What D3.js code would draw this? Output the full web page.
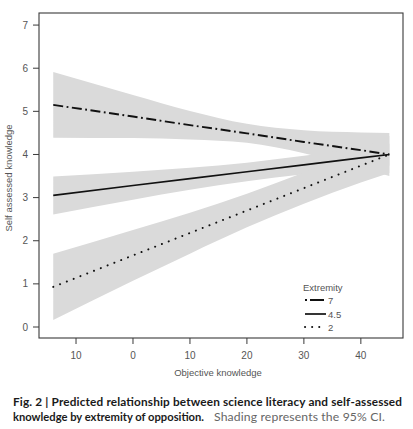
<!DOCTYPE html>
<html>
<head>
<meta charset="utf-8">
<script src="https://cdn.jsdelivr.net/npm/d3@7"></script>
<style>
  body { margin: 0; background: #fff; }
  svg text { font-family: "Liberation Sans", Arial, sans-serif; }
</style>
</head>
<body>
<svg id="chart" width="413" height="429"></svg>
<script>
// valeurs
const xGrid = [-14, 0, 10, 20, 30, 40, 45];

const fit7 = [5.15, 4.88, 4.68, 4.49, 4.29, 4.10, 4.00];
const low7 = [4.39, 4.38, 4.35, 4.27, 4.03, 3.68, 3.50];
const high7 = [5.91, 5.38, 5.01, 4.71, 4.56, 4.51, 4.50];

const fit45 = [3.05, 3.28, 3.44, 3.60, 3.76, 3.92, 4.00];
const low45 = [2.61, 2.95, 3.18, 3.38, 3.54, 3.68, 3.74];
const high45 = [3.49, 3.60, 3.69, 3.81, 3.97, 4.15, 4.25];

const fit2 = [0.93, 1.66, 2.18, 2.70, 3.22, 3.74, 4.00];
const low2 = [0.16, 1.07, 1.70, 2.31, 2.86, 3.35, 3.57];
const high2 = [1.70, 2.25, 2.65, 3.09, 3.58, 4.13, 4.43];

const xTicks = [-10, 0, 10, 20, 30, 40];
const xTickLabels = ["10", "0", "10", "20", "30", "40"];
const yTicks = [0, 1, 2, 3, 4, 5, 6, 7];

const legendLabels = ["7", "4.5", "2"];

const svg = d3.select("#chart");

const x = d3.scaleLinear().domain([-16.5, 47.4]).range([39, 403]);
const y = d3.scaleLinear().domain([-0.255, 7.28]).range([338, 13]);

// styles des lignes (7 = tiret-point, 4.5 = plein, 2 = pointillé)
const styles = {
  "7": { dash: "10 3.5 1.8 3.5", width: 1.9, cap: "butt" },
  "4.5": { dash: null, width: 1.7, cap: "butt" },
  "2": { dash: "0.1 7.2", width: 2, cap: "round" }
};

const series = [
  { key: "7", fit: fit7, low: low7, high: high7 },
  { key: "4.5", fit: fit45, low: low45, high: high45 },
  { key: "2", fit: fit2, low: low2, high: high2 }
];

const area = d3.area()
  .x((d, i) => x(xGrid[i]))
  .y0(d => y(d[0]))
  .y1(d => y(d[1]))
  .curve(d3.curveMonotoneX);

const line = d3.line()
  .x((d, i) => x(xGrid[i]))
  .y(d => y(d));

// bandes IC 95%
svg.append("g").selectAll("path")
  .data(series)
  .join("path")
  .attr("d", s => area(s.low.map((l, i) => [l, s.high[i]])))
  .attr("fill", "#dadada");

svg.append("g").selectAll("path")
  .data(series)
  .join("path")
  .attr("d", s => line(s.fit))
  .attr("fill", "none")
  .attr("stroke", "#111")
  .attr("stroke-width", s => styles[s.key].width)
  .attr("stroke-dasharray", s => styles[s.key].dash)
  .attr("stroke-linecap", s => styles[s.key].cap);

// cadre
svg.append("rect")
  .attr("x", 39).attr("y", 13)
  .attr("width", 364).attr("height", 325)
  .attr("fill", "none")
  .attr("stroke", "#3a3a3a")
  .attr("stroke-width", 1.1);

const axisColor = "#555";

// axe y
const yAxis = svg.append("g");
yAxis.selectAll("line")
  .data(yTicks)
  .join("line")
  .attr("x1", 33).attr("x2", 39)
  .attr("y1", d => y(d)).attr("y2", d => y(d))
  .attr("stroke", "#3a3a3a");
yAxis.selectAll("text")
  .data(yTicks)
  .join("text")
  .attr("x", 28)
  .attr("y", d => y(d) + 3.5)
  .attr("text-anchor", "end")
  .attr("font-size", 10)
  .attr("fill", axisColor)
  .text(d => d);

// axe x
const xAxis = svg.append("g");
xAxis.selectAll("line")
  .data(xTicks)
  .join("line")
  .attr("x1", d => x(d)).attr("x2", d => x(d))
  .attr("y1", 338).attr("y2", 344)
  .attr("stroke", "#3a3a3a");
xAxis.selectAll("text")
  .data(xTicks)
  .join("text")
  .attr("x", d => x(d))
  .attr("y", 359)
  .attr("text-anchor", "middle")
  .attr("font-size", 10)
  .attr("fill", axisColor)
  .text((d, i) => xTickLabels[i]);

svg.append("text")
  .attr("x", 218).attr("y", 376)
  .attr("text-anchor", "middle")
  .attr("font-size", 9.5)
  .attr("fill", axisColor)
  .text("Objective knowledge");

svg.append("text")
  .attr("transform", "translate(12,178) rotate(-90)")
  .attr("text-anchor", "middle")
  .attr("font-size", 9.5)
  .attr("fill", axisColor)
  .text("Self assessed knowledge");

// légende
const legend = svg.append("g").attr("transform", "translate(303,0)");
legend.append("text")
  .attr("x", 0).attr("y", 291)
  .attr("font-size", 9.5)
  .attr("fill", axisColor)
  .text("Extremity");

const legendY = [300, 314, 327];
const legendDash = { "7": "2 3 14 3", "4.5": null, "2": "0.1 7" };
legend.selectAll("line.item")
  .data(legendLabels)
  .join("line")
  .attr("class", "item")
  .attr("x1", 2).attr("x2", 23)
  .attr("y1", (d, i) => legendY[i]).attr("y2", (d, i) => legendY[i])
  .attr("stroke", "#111")
  .attr("stroke-width", d => styles[d].width)
  .attr("stroke-dasharray", d => legendDash[d])
  .attr("stroke-linecap", d => styles[d].cap);
legend.selectAll("text.item")
  .data(legendLabels)
  .join("text")
  .attr("class", "item")
  .attr("x", 25)
  .attr("y", (d, i) => legendY[i] + 3.5)
  .attr("font-size", 9.5)
  .attr("fill", axisColor)
  .text(d => d);

// légende de la figure
const cap = svg.append("g");
cap.append("text")
  .attr("x", 13).attr("y", 406)
  .attr("font-size", 11.8)
  .attr("font-weight", 700)
  .attr("fill", "#1a1a1a")
  .attr("textLength", 389)
  .attr("lengthAdjust", "spacing")
  .style("font-family", "Lato, sans-serif")
  .text("Fig. 2 | Predicted relationship between science literacy and self-assessed");
cap.append("text")
  .attr("x", 13).attr("y", 421)
  .attr("font-size", 11.2)
  .attr("font-weight", 700)
  .attr("fill", "#1a1a1a")
  .attr("textLength", 191)
  .attr("lengthAdjust", "spacing")
  .style("font-family", "Lato, sans-serif")
  .text("knowledge by extremity of opposition.");
cap.append("text")
  .attr("x", 214).attr("y", 421)
  .attr("font-size", 12.2)
  .attr("fill", "#666")
  .attr("textLength", 171)
  .attr("lengthAdjust", "spacing")
  .style("font-family", "Lato, sans-serif")
  .text("Shading represents the 95% CI.");
</script>
</body>
</html>
